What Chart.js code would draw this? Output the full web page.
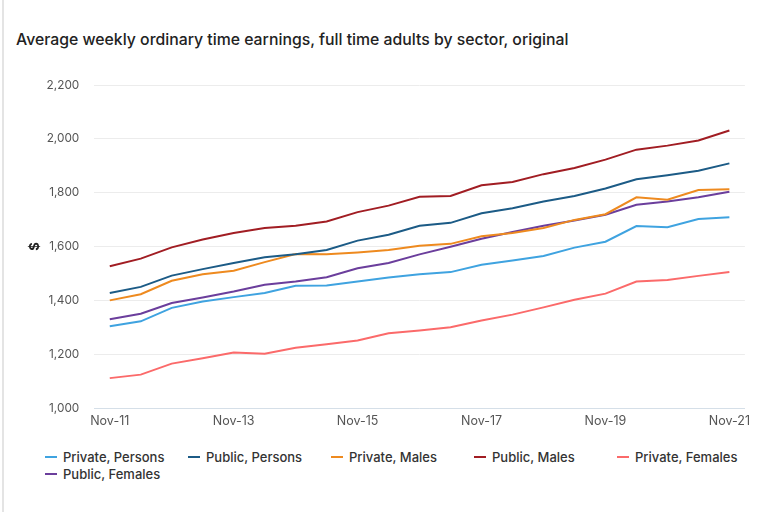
<!DOCTYPE html>
<html>
<head>
<meta charset="utf-8">
<script src="https://cdn.jsdelivr.net/npm/chart.js@4"></script>
<style>
  html, body { margin: 0; padding: 0; background: #fff; }
  body { width: 768px; height: 512px; position: relative; overflow: hidden; font-family: Inter, "Noto Sans", sans-serif; }
  #edge { position: absolute; left: 2px; top: 0; width: 2px; height: 512px; background: #e4e4e4; }
  #title { position: absolute; left: 16px; top: 30px; font-size: 15.8px; font-weight: 500; color: #222; white-space: nowrap; }
  #wrap { position: absolute; left: 8px; top: 63px; width: 748px; height: 372px; }
  #legend { position: absolute; left: 45px; top: 449px; width: 720px; display: grid; grid-template-columns: repeat(5, 143px); row-gap: 1px; }
  .item { display: flex; align-items: center; font-size: 13px; font-weight: 500; color: #333; height: 16px; white-space: nowrap; }
  .mark { width: 12px; height: 2px; margin-right: 6px; }
</style>
</head>
<body>
<div id="edge"></div>
<div id="title">Average weekly ordinary time earnings, full time adults by sector, original</div>
<div id="wrap"><canvas id="myChart"></canvas></div>
<div id="legend"></div>
<script>
var periodos = ['Nov-11', 'May-12', 'Nov-12', 'May-13', 'Nov-13', 'May-14', 'Nov-14', 'May-15', 'Nov-15', 'May-16', 'Nov-16',
    'May-17', 'Nov-17', 'May-18', 'Nov-18', 'May-19', 'Nov-19', 'May-20', 'Nov-20', 'May-21', 'Nov-21'];

var privatePersons = [1304, 1322, 1372, 1396, 1412, 1427, 1454, 1455, 1470, 1485, 1497, 1505, 1532, 1548, 1565, 1596, 1618, 1676, 1672, 1702, 1709];
var publicPersons = [1427, 1450, 1492, 1516, 1539, 1560, 1571, 1587, 1622, 1644, 1677, 1688, 1724, 1742, 1767, 1788, 1816, 1850, 1865, 1882, 1909];
var privateMales = [1400, 1423, 1473, 1497, 1510, 1542, 1572, 1571, 1578, 1587, 1603, 1610, 1638, 1650, 1669, 1699, 1720, 1783, 1774, 1810, 1813];
var publicMales = [1527, 1555, 1597, 1626, 1650, 1669, 1677, 1693, 1728, 1752, 1785, 1788, 1828, 1840, 1869, 1892, 1923, 1960, 1975, 1994, 2031];
var privateFemales = [1111, 1124, 1165, 1185, 1206, 1202, 1224, 1237, 1251, 1278, 1288, 1300, 1325, 1347, 1374, 1402, 1425, 1470, 1476, 1491, 1505];
var publicFemales = [1330, 1350, 1390, 1411, 1433, 1458, 1470, 1486, 1519, 1539, 1571, 1599, 1629, 1654, 1677, 1697, 1718, 1755, 1767, 1783, 1804];

var nomes = ['Private, Persons', 'Public, Persons', 'Private, Males', 'Public, Males', 'Private, Females', 'Public, Females'];
var cores = ['#3fa3e0', '#1c5b86', '#ee8a1f', '#a11d23', '#fb6a6a', '#6b3e9c'];
var series = [privatePersons, publicPersons, privateMales, publicMales, privateFemales, publicFemales];

var datasets = [];
for (var i = 0; i < series.length; i++) {
    datasets.push({
        label: nomes[i],
        data: series[i],
        borderColor: cores[i],
        backgroundColor: cores[i],
        borderWidth: 2,
        pointRadius: 0,
        tension: 0
    });
}

// legenda em html, grade de colunas fixas como no original
var leg = document.getElementById('legend');
for (var j = 0; j < nomes.length; j++) {
    var it = document.createElement('div');
    it.className = 'item';
    var mk = document.createElement('span');
    mk.className = 'mark';
    mk.style.background = cores[j];
    it.appendChild(mk);
    it.appendChild(document.createTextNode(nomes[j]));
    leg.appendChild(it);
}

var chart = new Chart(document.getElementById('myChart'), {
    type: 'line',
    data: { labels: periodos, datasets: datasets },
    options: {
        responsive: true,
        maintainAspectRatio: false,
        animation: false,
        layout: { padding: { top: 4, right: 0, bottom: 0, left: 19 } },
        plugins: { legend: { display: false }, tooltip: { enabled: false } },
        scales: {
            x: {
                offset: true,
                grid: { display: false, drawTicks: false },
                border: { display: true, color: '#d5dfe8', width: 1 },
                ticks: {
                    autoSkip: false,
                    maxRotation: 0,
                    padding: 6,
                    color: '#555',
                    font: { family: 'Inter', size: 12.5 },
                    callback: function (v, idx) { return idx % 4 == 0 ? periodos[idx] : null; }
                }
            },
            y: {
                min: 1000,
                max: 2200,
                ticks: { stepSize: 200, padding: 15, color: '#555', font: { family: 'Inter', size: 11.8 } },
                grid: { color: '#ececec', drawTicks: false },
                border: { display: false },
                title: { display: true, text: '$', color: '#222', font: { family: 'Inter', size: 13, weight: 'bold' }, padding: { top: 0, bottom: -11 } }
            }
        }
    }
});
</script>
</body>
</html>
